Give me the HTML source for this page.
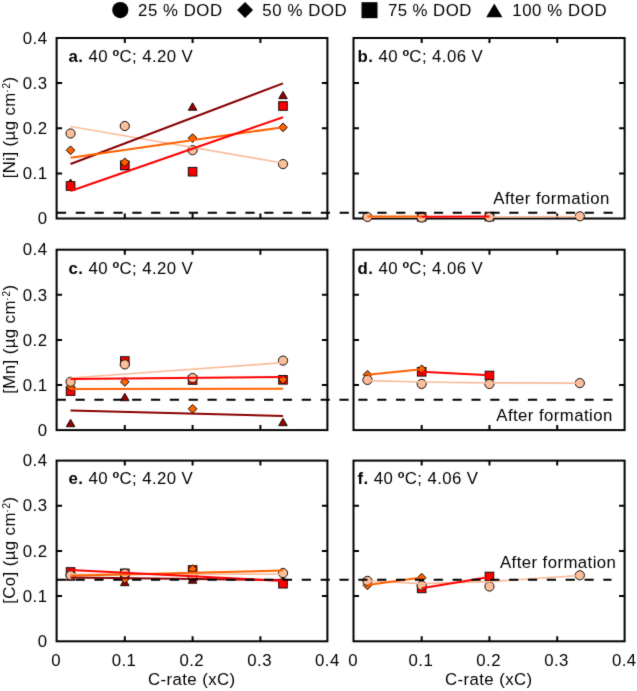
<!DOCTYPE html>
<html><head><meta charset="utf-8"><style>
html,body{margin:0;padding:0;background:#fff;}
svg{display:block;font-family:"Liberation Sans",sans-serif;}
</style></head><body>
<svg width="637" height="691" viewBox="0 0 637 691">
<defs><filter id="b" color-interpolation-filters="sRGB" x="0" y="0" width="637" height="691" filterUnits="userSpaceOnUse"><feConvolveMatrix order="3" kernelMatrix="0.0113 0.0838 0.0113 0.0838 0.6193 0.0838 0.0113 0.0838 0.0113" edgeMode="duplicate"/></filter></defs>
<g filter="url(#b)">
<rect width="637" height="691" fill="#fff"/>
<circle cx="120.3" cy="10.1" r="8.1" fill="#000"/>
<text transform="translate(138.00,15.60) scale(1.0,1)" text-anchor="start" font-size="16.8" letter-spacing="0.55">25 % DOD</text>
<path d="M245.05 2.1L253.05 10.1L245.05 18.1L237.05 10.1Z" fill="#000"/>
<text transform="translate(262.30,15.60) scale(1.0,1)" text-anchor="start" font-size="16.8" letter-spacing="0.6">50 % DOD</text>
<rect x="361.5" y="2.2" width="16" height="16" fill="#000"/>
<text transform="translate(387.90,15.60) scale(1.0,1)" text-anchor="start" font-size="16.8" letter-spacing="0.45">75 % DOD</text>
<path d="M494.3 3.4L502.4 17.3L486.2 17.3Z" fill="#000"/>
<text transform="translate(512.20,15.60) scale(1.0,1)" text-anchor="start" font-size="16.8" letter-spacing="0.6">100 % DOD</text>
<rect x="56.60" y="38.00" width="270.80" height="180.50" fill="none" stroke="#000" stroke-width="2.0"/>
<path d="M124.80 38.00V43.00M124.80 218.50V213.50M56.60 173.38H62.10M327.40 173.38H321.90M192.60 38.00V43.00M192.60 218.50V213.50M56.60 128.25H62.10M327.40 128.25H321.90M260.40 38.00V43.00M260.40 218.50V213.50M56.60 83.12H62.10M327.40 83.12H321.90" stroke="#000" stroke-width="2" fill="none"/>
<rect x="353.50" y="38.00" width="271.10" height="180.50" fill="none" stroke="#000" stroke-width="2.0"/>
<path d="M421.67 38.00V43.00M421.67 218.50V213.50M353.50 173.38H359.00M624.60 173.38H619.10M489.45 38.00V43.00M489.45 218.50V213.50M353.50 128.25H359.00M624.60 128.25H619.10M557.22 38.00V43.00M557.22 218.50V213.50M353.50 83.12H359.00M624.60 83.12H619.10" stroke="#000" stroke-width="2" fill="none"/>
<rect x="56.60" y="249.70" width="270.80" height="180.40" fill="none" stroke="#000" stroke-width="2.0"/>
<path d="M124.80 249.70V254.70M124.80 430.10V425.10M56.60 385.00H62.10M327.40 385.00H321.90M192.60 249.70V254.70M192.60 430.10V425.10M56.60 339.90H62.10M327.40 339.90H321.90M260.40 249.70V254.70M260.40 430.10V425.10M56.60 294.80H62.10M327.40 294.80H321.90" stroke="#000" stroke-width="2" fill="none"/>
<rect x="353.50" y="249.70" width="271.10" height="180.40" fill="none" stroke="#000" stroke-width="2.0"/>
<path d="M421.67 249.70V254.70M421.67 430.10V425.10M353.50 385.00H359.00M624.60 385.00H619.10M489.45 249.70V254.70M489.45 430.10V425.10M353.50 339.90H359.00M624.60 339.90H619.10M557.22 249.70V254.70M557.22 430.10V425.10M353.50 294.80H359.00M624.60 294.80H619.10" stroke="#000" stroke-width="2" fill="none"/>
<rect x="56.60" y="460.60" width="270.80" height="180.70" fill="none" stroke="#000" stroke-width="2.0"/>
<path d="M124.80 460.60V465.60M124.80 641.30V636.30M56.60 596.12H62.10M327.40 596.12H321.90M192.60 460.60V465.60M192.60 641.30V636.30M56.60 550.95H62.10M327.40 550.95H321.90M260.40 460.60V465.60M260.40 641.30V636.30M56.60 505.77H62.10M327.40 505.77H321.90" stroke="#000" stroke-width="2" fill="none"/>
<rect x="353.50" y="460.60" width="271.10" height="180.70" fill="none" stroke="#000" stroke-width="2.0"/>
<path d="M421.67 460.60V465.60M421.67 641.30V636.30M353.50 596.12H359.00M624.60 596.12H619.10M489.45 460.60V465.60M489.45 641.30V636.30M353.50 550.95H359.00M624.60 550.95H619.10M557.22 460.60V465.60M557.22 641.30V636.30M353.50 505.77H359.00M624.60 505.77H619.10" stroke="#000" stroke-width="2" fill="none"/>
<text transform="translate(47.42,224.20) scale(1.0,1)" text-anchor="end" font-size="16.8" letter-spacing="0.42">0</text>
<text transform="translate(47.42,179.07) scale(1.0,1)" text-anchor="end" font-size="16.8" letter-spacing="0.42">0.1</text>
<text transform="translate(47.42,133.95) scale(1.0,1)" text-anchor="end" font-size="16.8" letter-spacing="0.42">0.2</text>
<text transform="translate(47.42,88.83) scale(1.0,1)" text-anchor="end" font-size="16.8" letter-spacing="0.42">0.3</text>
<text transform="translate(47.42,43.70) scale(1.0,1)" text-anchor="end" font-size="16.8" letter-spacing="0.42">0.4</text>
<text transform="translate(47.42,435.80) scale(1.0,1)" text-anchor="end" font-size="16.8" letter-spacing="0.42">0</text>
<text transform="translate(47.42,390.70) scale(1.0,1)" text-anchor="end" font-size="16.8" letter-spacing="0.42">0.1</text>
<text transform="translate(47.42,345.60) scale(1.0,1)" text-anchor="end" font-size="16.8" letter-spacing="0.42">0.2</text>
<text transform="translate(47.42,300.50) scale(1.0,1)" text-anchor="end" font-size="16.8" letter-spacing="0.42">0.3</text>
<text transform="translate(47.42,255.40) scale(1.0,1)" text-anchor="end" font-size="16.8" letter-spacing="0.42">0.4</text>
<text transform="translate(47.42,647.00) scale(1.0,1)" text-anchor="end" font-size="16.8" letter-spacing="0.42">0</text>
<text transform="translate(47.42,601.83) scale(1.0,1)" text-anchor="end" font-size="16.8" letter-spacing="0.42">0.1</text>
<text transform="translate(47.42,556.65) scale(1.0,1)" text-anchor="end" font-size="16.8" letter-spacing="0.42">0.2</text>
<text transform="translate(47.42,511.47) scale(1.0,1)" text-anchor="end" font-size="16.8" letter-spacing="0.42">0.3</text>
<text transform="translate(47.42,466.30) scale(1.0,1)" text-anchor="end" font-size="16.8" letter-spacing="0.42">0.4</text>
<text transform="translate(56.21,665.60) scale(1.0,1)" text-anchor="middle" font-size="16.8" letter-spacing="0.42">0</text>
<text transform="translate(124.01,665.60) scale(1.0,1)" text-anchor="middle" font-size="16.8" letter-spacing="0.42">0.1</text>
<text transform="translate(191.81,665.60) scale(1.0,1)" text-anchor="middle" font-size="16.8" letter-spacing="0.42">0.2</text>
<text transform="translate(259.61,665.60) scale(1.0,1)" text-anchor="middle" font-size="16.8" letter-spacing="0.42">0.3</text>
<text transform="translate(327.41,665.60) scale(1.0,1)" text-anchor="middle" font-size="16.8" letter-spacing="0.42">0.4</text>
<text transform="translate(191.71,684.60) scale(1.0,1)" text-anchor="middle" font-size="16.8" letter-spacing="0.42">C-rate (xC)</text>
<text transform="translate(353.11,665.60) scale(1.0,1)" text-anchor="middle" font-size="16.8" letter-spacing="0.42">0</text>
<text transform="translate(420.88,665.60) scale(1.0,1)" text-anchor="middle" font-size="16.8" letter-spacing="0.42">0.1</text>
<text transform="translate(488.66,665.60) scale(1.0,1)" text-anchor="middle" font-size="16.8" letter-spacing="0.42">0.2</text>
<text transform="translate(556.43,665.60) scale(1.0,1)" text-anchor="middle" font-size="16.8" letter-spacing="0.42">0.3</text>
<text transform="translate(624.21,665.60) scale(1.0,1)" text-anchor="middle" font-size="16.8" letter-spacing="0.42">0.4</text>
<text transform="translate(488.76,684.60) scale(1.0,1)" text-anchor="middle" font-size="16.8" letter-spacing="0.42">C-rate (xC)</text>
<text transform="translate(14.9,127.45) rotate(-90) scale(1.0,1)" text-anchor="middle" font-size="16.8" letter-spacing="0.42">[Ni] (µg cm<tspan font-size="7.5" dy="-5.6">-</tspan><tspan font-size="10" dx="0.8" dy="0.5">2</tspan><tspan dy="5.1">)</tspan></text>
<text transform="translate(14.9,339.10) rotate(-90) scale(1.0,1)" text-anchor="middle" font-size="16.8" letter-spacing="0.42">[Mn] (µg cm<tspan font-size="7.5" dy="-5.6">-</tspan><tspan font-size="10" dx="0.8" dy="0.5">2</tspan><tspan dy="5.1">)</tspan></text>
<text transform="translate(14.9,550.15) rotate(-90) scale(1.0,1)" text-anchor="middle" font-size="16.8" letter-spacing="0.42">[Co] (µg cm<tspan font-size="7.5" dy="-5.6">-</tspan><tspan font-size="10" dx="0.8" dy="0.5">2</tspan><tspan dy="5.1">)</tspan></text>
<text transform="translate(68.60,61.60) scale(1.0,1)" font-size="16.8" letter-spacing="0.42"><tspan font-weight="bold">a.</tspan> 40 <tspan font-size="11" font-weight="bold" dx="-0.6" dy="-6.0">o</tspan><tspan dx="-0.2" dy="6.0">C; </tspan>4.20 V</text>
<text transform="translate(357.60,61.60) scale(1.0,1)" font-size="16.8" letter-spacing="0.42"><tspan font-weight="bold">b.</tspan> 40 <tspan font-size="11" font-weight="bold" dx="-0.6" dy="-6.0">o</tspan><tspan dx="-0.2" dy="6.0">C; </tspan>4.06 V</text>
<text transform="translate(68.60,273.60) scale(1.0,1)" font-size="16.8" letter-spacing="0.42"><tspan font-weight="bold">c.</tspan> 40 <tspan font-size="11" font-weight="bold" dx="-0.6" dy="-6.0">o</tspan><tspan dx="-0.2" dy="6.0">C; </tspan>4.20 V</text>
<text transform="translate(357.60,273.60) scale(1.0,1)" font-size="16.8" letter-spacing="0.42"><tspan font-weight="bold">d.</tspan> 40 <tspan font-size="11" font-weight="bold" dx="-0.6" dy="-6.0">o</tspan><tspan dx="-0.2" dy="6.0">C; </tspan>4.06 V</text>
<text transform="translate(68.60,484.00) scale(1.0,1)" font-size="16.8" letter-spacing="0.42"><tspan font-weight="bold">e.</tspan> 40 <tspan font-size="11" font-weight="bold" dx="-0.6" dy="-6.0">o</tspan><tspan dx="-0.2" dy="6.0">C; </tspan>4.20 V</text>
<text transform="translate(357.60,484.00) scale(1.0,1)" font-size="16.8" letter-spacing="0.42"><tspan font-weight="bold">f.</tspan> 40 <tspan font-size="11" font-weight="bold" dx="-0.6" dy="-6.0">o</tspan><tspan dx="-0.2" dy="6.0">C; </tspan>4.06 V</text>
<path d="M70.56 179.00L74.86 186.40L66.26 186.40Z" fill="#960000" stroke="#140c08" stroke-width="1" stroke-linejoin="miter"/>
<path d="M124.80 162.30L129.10 169.70L120.50 169.70Z" fill="#960000" stroke="#140c08" stroke-width="1" stroke-linejoin="miter"/>
<path d="M192.60 102.80L196.90 110.20L188.30 110.20Z" fill="#960000" stroke="#140c08" stroke-width="1" stroke-linejoin="miter"/>
<path d="M283.00 91.30L287.30 98.70L278.70 98.70Z" fill="#960000" stroke="#140c08" stroke-width="1" stroke-linejoin="miter"/>
<rect x="66.26" y="181.70" width="8.60" height="8.60" fill="#FF0000" stroke="#140c08" stroke-width="1"/>
<rect x="120.50" y="161.00" width="8.60" height="8.60" fill="#FF0000" stroke="#140c08" stroke-width="1"/>
<rect x="188.30" y="167.40" width="8.60" height="8.60" fill="#FF0000" stroke="#140c08" stroke-width="1"/>
<rect x="278.70" y="101.70" width="8.60" height="8.60" fill="#FF0000" stroke="#140c08" stroke-width="1"/>
<path d="M70.56 145.95L74.91 150.30L70.56 154.65L66.21 150.30Z" fill="#FF6400" stroke="#140c08" stroke-width="1"/>
<path d="M124.80 157.95L129.15 162.30L124.80 166.65L120.45 162.30Z" fill="#FF6400" stroke="#140c08" stroke-width="1"/>
<path d="M192.60 133.75L196.95 138.10L192.60 142.45L188.25 138.10Z" fill="#FF6400" stroke="#140c08" stroke-width="1"/>
<path d="M283.00 123.05L287.35 127.40L283.00 131.75L278.65 127.40Z" fill="#FF6400" stroke="#140c08" stroke-width="1"/>
<circle cx="70.56" cy="133.50" r="4.6" fill="#FBBF9C" stroke="#140c08" stroke-width="1"/>
<circle cx="124.80" cy="126.00" r="4.6" fill="#FBBF9C" stroke="#140c08" stroke-width="1"/>
<circle cx="192.60" cy="150.20" r="4.6" fill="#FBBF9C" stroke="#140c08" stroke-width="1"/>
<circle cx="283.00" cy="164.10" r="4.6" fill="#FBBF9C" stroke="#140c08" stroke-width="1"/>
<path d="M70.56 126.50L283.00 163.00" fill="none" stroke="#F9BD9C" stroke-width="1.7"/>
<path d="M70.56 164.00L283.00 83.40" fill="none" stroke="#880000" stroke-width="2"/>
<path d="M70.56 157.80L283.00 127.20" fill="none" stroke="#FF6000" stroke-width="2"/>
<path d="M70.56 191.00L283.00 117.20" fill="none" stroke="#FF0000" stroke-width="2"/>
<path d="M70.56 419.30L74.86 426.70L66.26 426.70Z" fill="#960000" stroke="#140c08" stroke-width="1" stroke-linejoin="miter"/>
<path d="M124.80 393.30L129.10 400.70L120.50 400.70Z" fill="#960000" stroke="#140c08" stroke-width="1" stroke-linejoin="miter"/>
<path d="M283.00 418.30L287.30 425.70L278.70 425.70Z" fill="#960000" stroke="#140c08" stroke-width="1" stroke-linejoin="miter"/>
<rect x="66.26" y="386.80" width="8.60" height="8.60" fill="#FF0000" stroke="#140c08" stroke-width="1"/>
<rect x="120.50" y="356.70" width="8.60" height="8.60" fill="#FF0000" stroke="#140c08" stroke-width="1"/>
<rect x="188.30" y="375.70" width="8.60" height="8.60" fill="#FF0000" stroke="#140c08" stroke-width="1"/>
<rect x="278.70" y="375.50" width="8.60" height="8.60" fill="#FF0000" stroke="#140c08" stroke-width="1"/>
<path d="M70.56 382.25L74.91 386.60L70.56 390.95L66.21 386.60Z" fill="#FF6400" stroke="#140c08" stroke-width="1"/>
<path d="M124.80 377.55L129.15 381.90L124.80 386.25L120.45 381.90Z" fill="#FF6400" stroke="#140c08" stroke-width="1"/>
<path d="M192.60 404.45L196.95 408.80L192.60 413.15L188.25 408.80Z" fill="#FF6400" stroke="#140c08" stroke-width="1"/>
<path d="M283.00 375.15L287.35 379.50L283.00 383.85L278.65 379.50Z" fill="#FF6400" stroke="#140c08" stroke-width="1"/>
<circle cx="70.56" cy="381.80" r="4.6" fill="#FBBF9C" stroke="#140c08" stroke-width="1"/>
<circle cx="124.80" cy="364.40" r="4.6" fill="#FBBF9C" stroke="#140c08" stroke-width="1"/>
<circle cx="192.60" cy="378.00" r="4.6" fill="#FBBF9C" stroke="#140c08" stroke-width="1"/>
<circle cx="283.00" cy="360.60" r="4.6" fill="#FBBF9C" stroke="#140c08" stroke-width="1"/>
<path d="M70.56 378.00L283.00 362.70" fill="none" stroke="#F9BD9C" stroke-width="1.7"/>
<path d="M70.56 410.50L283.00 416.00" fill="none" stroke="#880000" stroke-width="2"/>
<path d="M70.56 389.00L283.00 388.70" fill="none" stroke="#FF6000" stroke-width="2"/>
<path d="M70.56 379.10L283.00 377.00" fill="none" stroke="#FF0000" stroke-width="2"/>
<path d="M70.56 572.80L74.86 580.20L66.26 580.20Z" fill="#960000" stroke="#140c08" stroke-width="1" stroke-linejoin="miter"/>
<path d="M124.80 578.30L129.10 585.70L120.50 585.70Z" fill="#960000" stroke="#140c08" stroke-width="1" stroke-linejoin="miter"/>
<path d="M192.60 575.80L196.90 583.20L188.30 583.20Z" fill="#960000" stroke="#140c08" stroke-width="1" stroke-linejoin="miter"/>
<path d="M283.00 576.30L287.30 583.70L278.70 583.70Z" fill="#960000" stroke="#140c08" stroke-width="1" stroke-linejoin="miter"/>
<rect x="66.26" y="567.70" width="8.60" height="8.60" fill="#FF0000" stroke="#140c08" stroke-width="1"/>
<rect x="120.50" y="569.10" width="8.60" height="8.60" fill="#FF0000" stroke="#140c08" stroke-width="1"/>
<rect x="188.30" y="565.70" width="8.60" height="8.60" fill="#FF0000" stroke="#140c08" stroke-width="1"/>
<rect x="278.70" y="579.40" width="8.60" height="8.60" fill="#FF0000" stroke="#140c08" stroke-width="1"/>
<path d="M70.56 570.15L74.91 574.50L70.56 578.85L66.21 574.50Z" fill="#FF6400" stroke="#140c08" stroke-width="1"/>
<path d="M124.80 574.65L129.15 579.00L124.80 583.35L120.45 579.00Z" fill="#FF6400" stroke="#140c08" stroke-width="1"/>
<path d="M192.60 564.65L196.95 569.00L192.60 573.35L188.25 569.00Z" fill="#FF6400" stroke="#140c08" stroke-width="1"/>
<path d="M283.00 567.95L287.35 572.30L283.00 576.65L278.65 572.30Z" fill="#FF6400" stroke="#140c08" stroke-width="1"/>
<circle cx="70.56" cy="575.30" r="4.6" fill="#FBBF9C" stroke="#140c08" stroke-width="1"/>
<circle cx="124.80" cy="573.50" r="4.6" fill="#FBBF9C" stroke="#140c08" stroke-width="1"/>
<circle cx="192.60" cy="576.00" r="4.6" fill="#FBBF9C" stroke="#140c08" stroke-width="1"/>
<circle cx="283.00" cy="573.10" r="4.6" fill="#FBBF9C" stroke="#140c08" stroke-width="1"/>
<path d="M70.56 574.30L283.00 574.00" fill="none" stroke="#F9BD9C" stroke-width="1.7"/>
<path d="M70.56 577.40L283.00 580.00" fill="none" stroke="#880000" stroke-width="2"/>
<path d="M70.56 575.70L283.00 570.60" fill="none" stroke="#FF6000" stroke-width="2"/>
<path d="M70.56 570.00L283.00 581.00" fill="none" stroke="#FF0000" stroke-width="2"/>
<rect x="417.37" y="212.50" width="8.60" height="8.60" fill="#FF0000" stroke="#140c08" stroke-width="1"/>
<rect x="485.15" y="212.30" width="8.60" height="8.60" fill="#FF0000" stroke="#140c08" stroke-width="1"/>
<path d="M367.45 212.15L371.81 216.50L367.45 220.85L363.10 216.50Z" fill="#FF6400" stroke="#140c08" stroke-width="1"/>
<path d="M421.67 212.45L426.02 216.80L421.67 221.15L417.32 216.80Z" fill="#FF6400" stroke="#140c08" stroke-width="1"/>
<circle cx="367.45" cy="217.00" r="4.6" fill="#FBBF9C" stroke="#140c08" stroke-width="1"/>
<circle cx="421.67" cy="217.60" r="4.6" fill="#FBBF9C" stroke="#140c08" stroke-width="1"/>
<circle cx="489.45" cy="217.00" r="4.6" fill="#FBBF9C" stroke="#140c08" stroke-width="1"/>
<circle cx="579.82" cy="216.30" r="4.6" fill="#FBBF9C" stroke="#140c08" stroke-width="1"/>
<path d="M367.45 217.00L421.67 217.20L489.45 217.00L579.82 216.50" fill="none" stroke="#F9BD9C" stroke-width="1.7"/>
<path d="M367.45 216.50L421.67 216.60" fill="none" stroke="#FF6000" stroke-width="2"/>
<path d="M421.67 216.80L489.45 216.60" fill="none" stroke="#FF0000" stroke-width="2"/>
<rect x="417.37" y="367.50" width="8.60" height="8.60" fill="#FF0000" stroke="#140c08" stroke-width="1"/>
<rect x="485.15" y="371.20" width="8.60" height="8.60" fill="#FF0000" stroke="#140c08" stroke-width="1"/>
<path d="M367.45 370.45L371.81 374.80L367.45 379.15L363.10 374.80Z" fill="#FF6400" stroke="#140c08" stroke-width="1"/>
<path d="M421.67 364.95L426.02 369.30L421.67 373.65L417.32 369.30Z" fill="#FF6400" stroke="#140c08" stroke-width="1"/>
<circle cx="367.45" cy="379.90" r="4.6" fill="#FBBF9C" stroke="#140c08" stroke-width="1"/>
<circle cx="421.67" cy="383.90" r="4.6" fill="#FBBF9C" stroke="#140c08" stroke-width="1"/>
<circle cx="489.45" cy="384.00" r="4.6" fill="#FBBF9C" stroke="#140c08" stroke-width="1"/>
<circle cx="579.82" cy="383.10" r="4.6" fill="#FBBF9C" stroke="#140c08" stroke-width="1"/>
<path d="M367.45 380.60L421.67 382.00L489.45 382.80L579.82 383.10" fill="none" stroke="#F9BD9C" stroke-width="1.7"/>
<path d="M367.45 374.80L421.67 369.30" fill="none" stroke="#FF6000" stroke-width="2"/>
<path d="M421.67 371.80L489.45 375.30" fill="none" stroke="#FF0000" stroke-width="2"/>
<rect x="417.37" y="584.10" width="8.60" height="8.60" fill="#FF0000" stroke="#140c08" stroke-width="1"/>
<rect x="485.15" y="572.20" width="8.60" height="8.60" fill="#FF0000" stroke="#140c08" stroke-width="1"/>
<path d="M367.45 580.95L371.81 585.30L367.45 589.65L363.10 585.30Z" fill="#FF6400" stroke="#140c08" stroke-width="1"/>
<path d="M421.67 573.35L426.02 577.70L421.67 582.05L417.32 577.70Z" fill="#FF6400" stroke="#140c08" stroke-width="1"/>
<circle cx="367.45" cy="580.90" r="4.6" fill="#FBBF9C" stroke="#140c08" stroke-width="1"/>
<circle cx="421.67" cy="585.50" r="4.6" fill="#FBBF9C" stroke="#140c08" stroke-width="1"/>
<circle cx="489.45" cy="586.50" r="4.6" fill="#FBBF9C" stroke="#140c08" stroke-width="1"/>
<circle cx="579.82" cy="575.30" r="4.6" fill="#FBBF9C" stroke="#140c08" stroke-width="1"/>
<path d="M367.45 581.00L421.67 583.70L489.45 581.60L579.82 575.50" fill="none" stroke="#F9BD9C" stroke-width="1.7"/>
<path d="M367.45 585.00L421.67 577.50" fill="none" stroke="#FF6000" stroke-width="2"/>
<path d="M421.67 588.30L489.45 577.00" fill="none" stroke="#FF0000" stroke-width="2"/>
<path d="M56.90 212.80H612.80" stroke="#000" stroke-width="2" stroke-dasharray="9.2 9.65" fill="none"/>
<path d="M56.70 399.70H612.80" stroke="#000" stroke-width="2" stroke-dasharray="9.2 9.65" fill="none"/>
<path d="M56.70 579.80H611.50" stroke="#000" stroke-width="2" stroke-dasharray="9.2 9.65" fill="none"/>
<text transform="translate(493.30,203.50) scale(1.0,1)" text-anchor="start" font-size="16.8" letter-spacing="0.42">After formation</text>
<text transform="translate(496.30,420.50) scale(1.0,1)" text-anchor="start" font-size="16.8" letter-spacing="0.42">After formation</text>
<text transform="translate(500.00,567.50) scale(1.0,1)" text-anchor="start" font-size="16.8" letter-spacing="0.42">After formation</text>
</g>
</svg>
</body></html>
